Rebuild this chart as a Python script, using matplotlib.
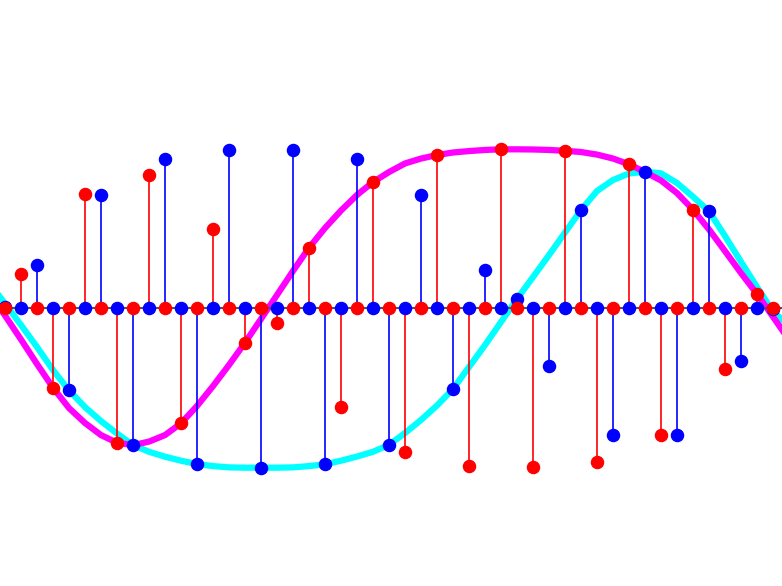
import numpy as np
import matplotlib
matplotlib.use('Agg')
import matplotlib.pyplot as plt

# sample index 0..48
n = np.arange(49)

# red stems: nonzero on odd samples
red_odd = [0.212, -0.501, 0.717, -0.847, 0.838, -0.725, 0.495, -0.218,
           -0.094, 0.379, -0.625, 0.792, -0.908, 0.962, -0.994, 0.998,
           -1.002, 0.989, -0.969, 0.904, -0.797, 0.618, -0.386, 0.088]
# blue stems: nonzero on even samples
blue_even = [0.005, 0.269, -0.518, 0.713, -0.862, 0.939, -0.981, 0.994,
             -1.004, 0.994, -0.983, 0.939, -0.860, 0.713, -0.509, 0.237,
             0.057, -0.365, 0.616, -0.797, 0.857, -0.797, 0.608, -0.331,
             -0.005]

red = np.zeros(49)
red[1::2] = red_odd
blue = np.zeros(49)
blue[0::2] = blue_even

# continuous curves, read at every sample (plus the two ends)
curve_x = [-0.5] + list(range(49)) + [48.75]
magenta = [0.025, -0.047, -0.198, -0.352, -0.501, -0.629, -0.723, -0.799, -0.847,
           -0.862, -0.840, -0.799, -0.725, -0.616, -0.491, -0.358, -0.218,
           -0.069, 0.082, 0.233, 0.379, 0.503, 0.613, 0.711, 0.792,
           0.855, 0.909, 0.940, 0.962, 0.978, 0.987, 0.994, 0.998,
           0.998, 0.997, 0.994, 0.989, 0.981, 0.965, 0.940, 0.904,
           0.855, 0.802, 0.723, 0.618, 0.494, 0.358, 0.220, 0.088,
           -0.055, -0.164]
cyan = [0.094, 0.028, -0.107, -0.245, -0.390, -0.518, -0.623, -0.711, -0.789,
        -0.862, -0.904, -0.935, -0.960, -0.981, -0.994, -1.002, -1.004,
        -1.004, -1.004, -1.002, -0.994, -0.983, -0.960, -0.934, -0.904,
        -0.860, -0.786, -0.704, -0.613, -0.509, -0.371, -0.233, -0.088,
        0.057, 0.195, 0.333, 0.475, 0.616, 0.736, 0.805, 0.846,
        0.857, 0.847, 0.786, 0.700, 0.608, 0.453, 0.291, 0.132,
        -0.023, -0.088]

fig = plt.figure(figsize=(7.82, 5.86), dpi=100)
ax = fig.add_axes([0, 0, 1, 1])

ax.plot(curve_x, cyan, color='#00ffff', lw=4.5, zorder=1, solid_joinstyle='round')
ax.plot(curve_x, magenta, color='#ff00ff', lw=4.5, zorder=1.1, solid_joinstyle='round')
ax.axhline(0, color='#555555', lw=1.5, zorder=1.5)

for vals, col, zm in [(blue, 'b', 3), (red, 'r', 3.1)]:
    ml, sl, bl = ax.stem(n, vals, linefmt=col + '-', markerfmt=col + 'o', basefmt=' ')
    plt.setp(sl, linewidth=1.2, zorder=2)
    plt.setp(ml, markersize=8.7, zorder=zm)
    bl.set_visible(False)

ax.set_xlim(-0.3125, 48.5625)
ax.set_ylim(-1.748, 1.937)
ax.axis('off')

fig.savefig('out.png', dpi=100)
